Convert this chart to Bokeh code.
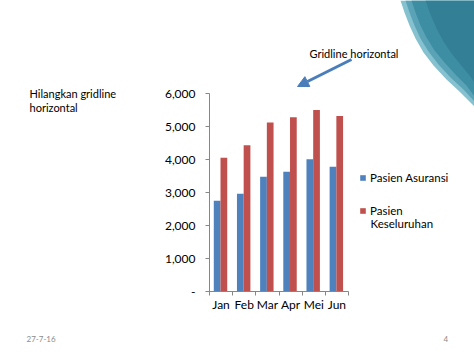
from bokeh.plotting import figure
from bokeh.models import (ColumnDataSource, Label, Legend, LegendItem, Arrow, NormalHead,
                          FixedTicker, NumeralTickFormatter, Range1d)
from bokeh.layouts import row, column
from bokeh.embed import file_html
from bokeh.resources import INLINE

# ---- data ----
months = ["Jan", "Feb", "Mar", "Apr", "Mei", "Jun"]
pasien_asuransi = [2750, 2960, 3480, 3630, 4010, 3780]
pasien_keseluruhan = [4050, 4430, 5120, 5280, 5500, 5320]
series_names = ["Pasien Asuransi", "Pasien", "Keseluruhan"]
y_ticks = [0, 1000, 2000, 3000, 4000, 5000, 6000]

BLUE = "#4f81bd"
RED = "#c0504d"
FONT = "Lato"
AX = "#868686"

W, H = 474, 355
LEFT_W = 161          # width of left text column
CHART_H = 318         # height of chart figure
BOT_H = H - CHART_H
Y_AXIS_W = 48         # room for y tick labels inside chart figure
FRAME_L = LEFT_W + Y_AXIS_W        # 209 page px
FRAME_B = 291                      # page y of value 0
PX_PER_CAT = 23.17
PX_PER_VAL = 0.033

def blank(width, height, x0, x1, y0, y1, border_left=0):
    f = figure(width=width, height=height, x_range=Range1d(x0, x1), y_range=Range1d(y1, y0),
               output_backend="svg", toolbar_location=None, title=None,
               x_axis_location=None, y_axis_location=None, min_border=0,
               min_border_left=border_left, min_border_right=0,
               min_border_top=0, min_border_bottom=0)
    f.xgrid.visible = False
    f.ygrid.visible = False
    f.outline_line_color = None
    return f

def text(f, txt, x, y, size="11px", color="#000000", align="left", **kw):
    f.add_layout(Label(x=x, y=y, text=txt, text_font=FONT, text_font_size=size,
                       text_color=color, text_align=align, text_baseline="middle", **kw))

# decoration polygons (page px)
shapes = [
    ([400, 404, 409, 415, 423, 433, 446, 460, 474, 474],
     [0, 12, 25, 38, 52, 65, 79, 92, 106, 0], "#86c1cf"),
    ([405, 409, 414, 420, 428, 438, 450, 463, 474, 474],
     [0, 12, 25, 38, 51, 64, 77, 89, 101, 0], "#5aa3b6"),
    ([411, 415, 420, 426, 434, 444, 455, 466, 474, 474],
     [0, 12, 25, 37, 50, 62, 74, 85, 96, 0], "#3d8da3"),
    ([425, 430, 436, 443, 451, 460, 469, 474, 474],
     [0, 14, 28, 41, 53, 64, 75, 82, 0], "#337f96"),
]

# ---- left column ----
left = blank(LEFT_W, H, 0, LEFT_W, 0, H)
text(left, "Hilangkan gridline", 29, 93)
text(left, "horizontal", 29, 107)
text(left, "27-7-16", 26, 338, size="8px", color="#8c8c8c")

# ---- chart ----
frame_w = W - FRAME_L
frame_h = FRAME_B
idx = list(range(len(months)))
src = ColumnDataSource(dict(
    xb=[i + 0.33 for i in idx],
    xr=[i + 0.62 for i in idx],
    a=pasien_asuransi,
    k=pasien_keseluruhan,
))
chart = figure(width=W - LEFT_W, height=CHART_H,
               x_range=Range1d(0, frame_w / PX_PER_CAT), y_range=Range1d(0, frame_h / PX_PER_VAL),
               output_backend="svg", toolbar_location=None, title=None,
               min_border_left=Y_AXIS_W, min_border_top=0, min_border_right=0,
               min_border_bottom=CHART_H - frame_h,
               frame_width=frame_w, frame_height=frame_h)
chart.outline_line_color = None
chart.xgrid.visible = False
chart.ygrid.visible = False
chart.extra_x_ranges = {"px": Range1d(FRAME_L, W)}
chart.extra_y_ranges = {"px": Range1d(FRAME_B, 0)}
for xs_, ys_, c in shapes:
    chart.patch(xs_, ys_, fill_color=c, line_color=None, x_range_name="px", y_range_name="px")

rb = chart.vbar(x="xb", top="a", width=0.29, source=src, fill_color=BLUE, line_color=None)
rr = chart.vbar(x="xr", top="k", width=0.29, source=src, fill_color=RED, line_color=None)

xa = chart.xaxis[0]
xa.bounds = (0, len(months))
xa.ticker = FixedTicker(ticks=[i + 0.5 for i in idx], minor_ticks=list(range(len(months) + 1)))
xa.major_label_overrides = {i + 0.5: m for i, m in zip(idx, months)}
xa.major_tick_line_color = None
xa.major_tick_in = 0
xa.major_tick_out = 0
xa.minor_tick_line_color = AX
xa.minor_tick_in = 0
xa.minor_tick_out = 4
xa.axis_line_color = AX
xa.major_label_text_font = FONT
xa.major_label_text_font_size = "12px"
xa.major_label_text_color = "#000000"
xa.major_label_standoff = 1

ya = chart.yaxis[0]
ya.bounds = (0, 6000)
ya.ticker = FixedTicker(ticks=y_ticks)
ya.formatter = NumeralTickFormatter(format="0,0")
ya.major_label_overrides = {0: "-"}
ya.minor_tick_line_color = None
ya.major_tick_line_color = AX
ya.major_tick_in = 0
ya.major_tick_out = 4
ya.axis_line_color = AX
ya.major_label_text_font = FONT
ya.major_label_text_font_size = "12px"
ya.major_label_text_color = "#000000"
ya.major_label_standoff = 10

legend = Legend(items=[LegendItem(label=series_names[0], renderers=[rb]),
                       LegendItem(label=series_names[1], renderers=[rr])],
                location=(359 - FRAME_L, FRAME_B - 216.5), orientation="vertical",
                glyph_width=7, glyph_height=7, label_standoff=4, spacing=20,
                padding=0, margin=0, border_line_color=None, background_fill_alpha=0,
                label_text_font=FONT, label_text_font_size="11.5px", label_text_color="#000000")
chart.add_layout(legend, "center")
chart.add_layout(Label(x=370, y=222.5, x_range_name="px", y_range_name="px", text=series_names[2],
                       text_font=FONT, text_font_size="11.5px", text_color="#000000",
                       text_baseline="middle"))

chart.add_layout(Label(x=309, y=53, x_range_name="px", y_range_name="px", text="Gridline horizontal",
                       text_font=FONT, text_font_size="11px", text_color="#000000",
                       text_baseline="middle"))
chart.add_layout(Arrow(x_start=351, y_start=59, x_end=297, y_end=86,
                       x_range_name="px", y_range_name="px",
                       line_color="#4a7ebb", line_width=3,
                       end=NormalHead(size=11, fill_color="#4a7ebb", line_color="#4a7ebb")))

# ---- bottom strip ----
bottom = blank(W - LEFT_W, BOT_H, FRAME_L, W, CHART_H, H, border_left=Y_AXIS_W)
text(bottom, "4", 443, 338, size="8px", color="#8c8c8c")

layout = row(left, column(chart, bottom))
open("out.html", "w").write(file_html(layout, INLINE))
